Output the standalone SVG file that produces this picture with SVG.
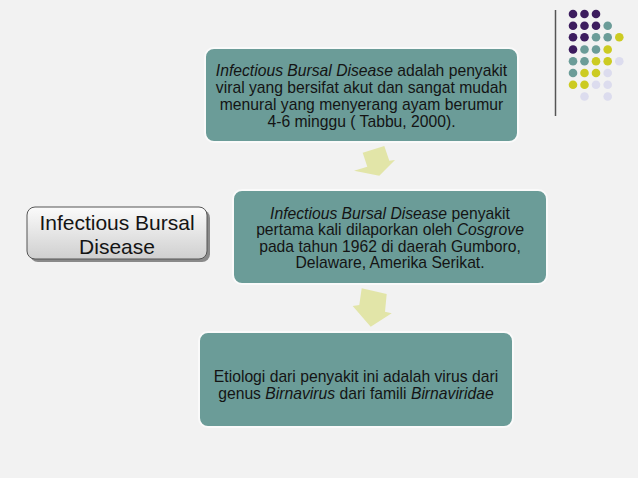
<svg xmlns="http://www.w3.org/2000/svg" width="638" height="478" viewBox="0 0 638 478">
<defs>
<linearGradient id="gbox" x1="0" y1="0" x2="0" y2="1">
<stop offset="0" stop-color="#fbfbfb"/>
<stop offset="1" stop-color="#cfcfcf"/>
</linearGradient>
<style>
.box{fill:#6b9c98;stroke:#fafafa;stroke-width:2}
.t{font-family:"Liberation Sans",Arial,sans-serif;font-size:15.7px;fill:#141414;text-anchor:middle}
.i{font-style:italic}
.arr{fill:#e2e5a8}
.p{fill:#3c1c5e}.q{fill:#6b9c98}.y{fill:#cccb22}.l{fill:#dcdcee}
</style>
</defs>
<rect width="638" height="478" fill="#f2f2f2"/>
<g id="decor">
<line x1="555.5" y1="10" x2="555.5" y2="116" stroke="#555" stroke-width="1.5"/>
<g>
<circle class="p" cx="573" cy="14" r="4.3"/><circle class="p" cx="584.5" cy="14" r="4.3"/><circle class="p" cx="596" cy="14" r="4.3"/>
<circle class="p" cx="573" cy="25.7" r="4.3"/><circle class="p" cx="584.5" cy="25.7" r="4.3"/><circle class="p" cx="596" cy="25.7" r="4.3"/><circle class="q" cx="607.7" cy="25.7" r="4.3"/>
<circle class="p" cx="573" cy="37.3" r="4.3"/><circle class="p" cx="584.5" cy="37.3" r="4.3"/><circle class="q" cx="596" cy="37.3" r="4.3"/><circle class="q" cx="607.7" cy="37.3" r="4.3"/><circle class="y" cx="619.3" cy="37.3" r="4.3"/>
<circle class="p" cx="573" cy="49.5" r="4.3"/><circle class="q" cx="584.5" cy="49.5" r="4.3"/><circle class="q" cx="596" cy="49.5" r="4.3"/><circle class="y" cx="607.7" cy="49.5" r="4.3"/>
<circle class="q" cx="573" cy="61.3" r="4.3"/><circle class="q" cx="584.5" cy="61.3" r="4.3"/><circle class="y" cx="596" cy="61.3" r="4.3"/><circle class="y" cx="607.7" cy="61.3" r="4.3"/><circle class="l" cx="619.3" cy="61.3" r="4.3"/>
<circle class="q" cx="573" cy="73" r="4.3"/><circle class="y" cx="584.5" cy="73" r="4.3"/><circle class="y" cx="596" cy="73" r="4.3"/><circle class="l" cx="607.7" cy="73" r="4.3"/>
<circle class="y" cx="573" cy="84.7" r="4.3"/><circle class="y" cx="584.5" cy="84.7" r="4.3"/><circle class="l" cx="596" cy="84.7" r="4.3"/><circle class="l" cx="607.7" cy="84.7" r="4.3"/>
<circle class="l" cx="584.5" cy="96.5" r="4.3"/><circle class="l" cx="607.7" cy="96.5" r="4.3"/>
</g>
</g>
<g id="connectors">
<polygon class="arr" points="362.7,152.7 384.3,146 389.3,160.7 395,160 379.3,175.7 354,170.7 367.3,166.7"/>
<polygon class="arr" points="361.7,288.3 386.7,294 385,311.7 391.7,313.3 370.7,326.7 352.7,306 359.3,305"/>
</g>
<g id="title">
<rect x="30" y="210" width="180" height="52" rx="8" fill="#8a8a8a"/>
<rect x="27" y="207" width="180" height="52" rx="8" fill="url(#gbox)" stroke="#555" stroke-width="1"/>
<text class="t" x="117" y="230" style="font-size:21px">Infectious Bursal</text>
<text class="t" x="117" y="254" style="font-size:21px">Disease</text>
</g>
<g id="box1">
<rect class="box" x="205" y="48" width="313" height="94" rx="9"/>
<text class="t" x="361.5" y="76"><tspan class="i">Infectious Bursal Disease</tspan> adalah penyakit</text>
<text class="t" x="361.5" y="93">viral yang bersifat akut dan sangat mudah</text>
<text class="t" x="361.5" y="110">menural yang menyerang ayam berumur</text>
<text class="t" x="361.5" y="127">4-6 minggu ( Tabbu, 2000).</text>
</g>
<g id="box2">
<rect class="box" x="233" y="190" width="314" height="94" rx="9"/>
<text class="t" x="390" y="218.5"><tspan class="i">Infectious Bursal Disease</tspan> penyakit</text>
<text class="t" x="390" y="235">pertama kali dilaporkan oleh <tspan class="i">Cosgrove</tspan></text>
<text class="t" x="390" y="251.5">pada tahun 1962 di daerah Gumboro,</text>
<text class="t" x="390" y="268">Delaware, Amerika Serikat.</text>
</g>
<g id="box3">
<rect class="box" x="199" y="332" width="314" height="95" rx="9"/>
<text class="t" x="356" y="382">Etiologi dari penyakit ini adalah virus dari</text>
<text class="t" x="356" y="399">genus <tspan class="i">Birnavirus</tspan> dari famili <tspan class="i">Birnaviridae</tspan></text>
</g>
</svg>
